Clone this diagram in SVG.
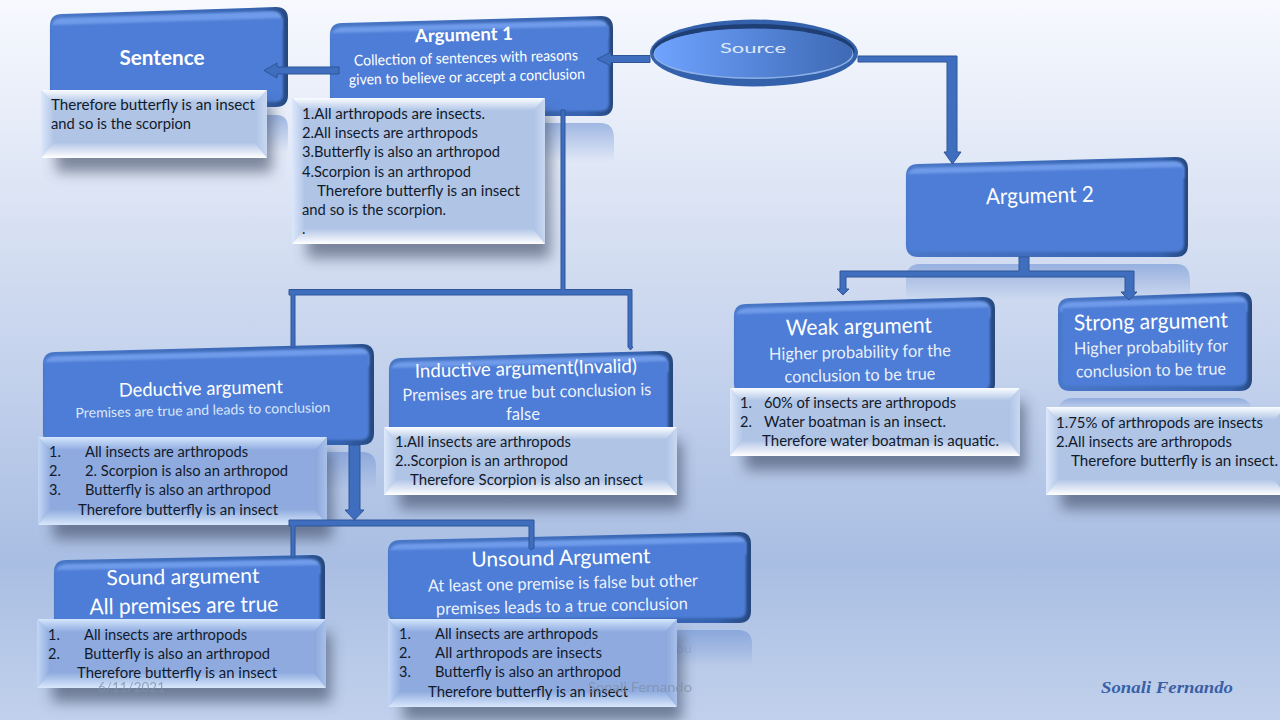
<svg xmlns="http://www.w3.org/2000/svg" width="1280" height="720" viewBox="0 0 1280 720">
<style>
text{font-family:Lato,"Open Sans","Liberation Sans",sans-serif}
.b{fill:#111a2b;font-size:14.5px}
.t{fill:#fff;text-anchor:middle}
.o{fill:url(#edge)}
.m{fill:#4e7dd6;filter:url(#soft)}
.h{fill:#6f9bea;filter:url(#soft)}
.s{fill:#3a4660;opacity:.6;filter:url(#blur)}
.c{fill:#3f6ebf;stroke:#2f5597;stroke-width:1}
.lt{fill:url(#lt)}.ll{fill:url(#ll)}.lr{fill:url(#lr)}.lb{fill:url(#lb)}.lc{fill:#b0c4e5}
.dt{fill:url(#dt)}.dl{fill:url(#dl)}.dr{fill:url(#dr)}.db{fill:url(#db)}.dc{fill:#8faadf}
.r{fill:url(#refl)}
.f{fill:#7f8fa8;font-size:14px;opacity:.75}
</style>
<defs>
<linearGradient id="bg" x1="0" y1="0" x2="0" y2="1"><stop offset="0" stop-color="#f7f9fe"/><stop offset=".4" stop-color="#cfdaf0"/><stop offset=".78" stop-color="#a9bee3"/><stop offset="1" stop-color="#c1d1ec"/></linearGradient>
<linearGradient id="edge" x1="0" y1="0" x2="1" y2="0"><stop offset="0" stop-color="#4a78c8"/><stop offset=".9" stop-color="#3563b0"/><stop offset="1" stop-color="#26487f"/></linearGradient>
<linearGradient id="refl" x1="0" y1="0" x2="0" y2="1"><stop offset="0" stop-color="#6f93d4" stop-opacity=".6"/><stop offset="1" stop-color="#6f93d4" stop-opacity="0"/></linearGradient>
<linearGradient id="lt" x1="0" y1="0" x2="0" y2="1"><stop offset="0" stop-color="#fbfdff"/><stop offset="1" stop-color="#aec4e6"/></linearGradient>
<linearGradient id="ll" x1="0" y1="0" x2="1" y2="0"><stop offset="0" stop-color="#dce8fb"/><stop offset="1" stop-color="#b4c7e7"/></linearGradient>
<linearGradient id="lr" x1="0" y1="0" x2="1" y2="0"><stop offset="0" stop-color="#adc2e5"/><stop offset="1" stop-color="#c9d8f1"/></linearGradient>
<linearGradient id="lb" x1="0" y1="0" x2="0" y2="1"><stop offset="0" stop-color="#b4c7e7"/><stop offset="1" stop-color="#fff"/></linearGradient>
<linearGradient id="dt" x1="0" y1="0" x2="0" y2="1"><stop offset="0" stop-color="#d5e6fd"/><stop offset="1" stop-color="#8fabe0"/></linearGradient>
<linearGradient id="dl" x1="0" y1="0" x2="1" y2="0"><stop offset="0" stop-color="#c3d6f5"/><stop offset="1" stop-color="#92aee0"/></linearGradient>
<linearGradient id="dr" x1="0" y1="0" x2="1" y2="0"><stop offset="0" stop-color="#8aa6da"/><stop offset="1" stop-color="#a8c0ea"/></linearGradient>
<linearGradient id="db" x1="0" y1="0" x2="0" y2="1"><stop offset="0" stop-color="#92aee0"/><stop offset="1" stop-color="#d8e7fb"/></linearGradient>
<linearGradient id="src" x1="0" y1="0" x2="1" y2="0"><stop offset="0" stop-color="#6ea3ff"/><stop offset="1" stop-color="#3e69b4"/></linearGradient>
<filter id="blur" x="-20%" y="-30%" width="140%" height="160%"><feGaussianBlur stdDeviation="7"/></filter>
<filter id="soft" x="-2%" y="-5%" width="104%" height="110%"><feGaussianBlur stdDeviation=".9"/></filter>
</defs>

<rect id="background" width="1280" height="720" fill="url(#bg)"/>

<g id="reflections">
<path class="r" d="M267 115H276Q288 115 288 128V152H267Z"/>
<path class="r" d="M545 123H600Q614 123 614 138V162H545Z"/>
<path class="r" d="M920 264H1176Q1190 264 1190 280V300H906V280Q906 264 920 264Z"/>
<path class="r" d="M1072 398H1238Q1248 398 1252 408H1058Q1062 398 1072 398Z"/>
<path class="r" d="M327 452H362Q376 452 376 466V490H327Z"/>
<path class="r" d="M677 630H738Q752 630 752 644V666H677Z"/>
</g>

<g id="source">
<ellipse cx="754" cy="53" rx="104" ry="33.500" fill="#3361ab"/>
<ellipse cx="753.500" cy="51" rx="101" ry="27" fill="#1f3e74"/>
<ellipse cx="753.500" cy="54" rx="100" ry="25" fill="#8db0e6"/>
<ellipse cx="753.500" cy="53" rx="99" ry="24.500" fill="url(#src)"/>
<text x="753" y="53" text-anchor="middle" fill="#dfe8f8" font-size="14" textLength="66" lengthAdjust="spacingAndGlyphs">Source</text>
</g>

<g id="sentence">
<path class="o" d="M62 14L276 7Q288 7 288 19V95Q288 107 276 107H62Q50 107 50 95V26Q50 14 62 14Z"/>
<path class="h" d="M60 18L272 11Q281 11 282 18V30H52V26Q52 19 60 18Z"/>
<path class="m" d="M51 25L283 18V94Q283 102 275 102H59Q51 102 51 94Z"/>
<text class="t" x="162" y="65" font-size="21" font-weight="700" textLength="85" lengthAdjust="spacingAndGlyphs">Sentence</text>
<rect class="s" x="56" y="104" width="216" height="68"/>
<rect class="lc" x="41" y="90" width="226" height="68"/>
<polygon class="lt" points="41,90 267,90 255,103 53,103"/>
<polygon class="ll" points="41,90 53,103 53,143 41,158"/>
<polygon class="lr" points="267,90 255,103 255,143 267,158"/>
<polygon class="lb" points="41,158 53,143 255,143 267,158"/>
<text class="b" x="51" y="110" textLength="204" lengthAdjust="spacingAndGlyphs">Therefore butterfly is an insect</text>
<text class="b" x="51" y="129" textLength="140" lengthAdjust="spacingAndGlyphs">and so is the scorpion</text>
</g>

<g id="argument1">
<path class="o" d="M342 23L601 16Q613 16 613 28V104Q613 116 601 116H342Q330 116 330 104V35Q330 23 342 23Z"/>
<path class="h" d="M342 27L598 20Q607 20 608 27V38H332V35Q332 28 342 27Z"/>
<path class="m" d="M331 33L609 26V103Q609 111 601 111H339Q331 111 331 103Z"/>
<text class="t" x="464" y="41" font-size="18" font-weight="700" transform="rotate(-1.4 464 41)" textLength="98" lengthAdjust="spacingAndGlyphs">Argument 1</text>
<text class="t" x="466" y="63" font-size="15" transform="rotate(-1.4 466 63)" textLength="224" lengthAdjust="spacingAndGlyphs">Collection of sentences with reasons</text>
<text class="t" x="467" y="82" font-size="15" transform="rotate(-1.4 467 82)" textLength="236" lengthAdjust="spacingAndGlyphs">given to believe or accept a conclusion</text>
<rect class="s" x="307" y="112" width="243" height="146"/>
<rect class="lc" x="292" y="98" width="253" height="146"/>
<polygon class="lt" points="292,98 545,98 533,111 304,111"/>
<polygon class="ll" points="292,98 304,111 304,229 292,244"/>
<polygon class="lr" points="545,98 533,111 533,229 545,244"/>
<polygon class="lb" points="292,244 304,229 533,229 545,244"/>
<text class="b" x="302" y="119" textLength="183" lengthAdjust="spacingAndGlyphs">1.All arthropods are insects.</text>
<text class="b" x="302" y="138" textLength="176" lengthAdjust="spacingAndGlyphs">2.All insects are arthropods</text>
<text class="b" x="302" y="157" textLength="198" lengthAdjust="spacingAndGlyphs">3.Butterfly is also an arthropod</text>
<text class="b" x="302" y="177" textLength="169" lengthAdjust="spacingAndGlyphs">4.Scorpion is an arthropod</text>
<text class="b" x="317" y="196" textLength="203" lengthAdjust="spacingAndGlyphs">Therefore butterfly is an insect</text>
<text class="b" x="302" y="215" textLength="144" lengthAdjust="spacingAndGlyphs">and so is the scorpion.</text>
<text class="b" x="302" y="234">.</text>
</g>

<g id="argument2">
<path class="o" d="M918 164L1176 157Q1188 157 1188 169V245Q1188 257 1176 257H918Q906 257 906 245V176Q906 164 918 164Z"/>
<path class="h" d="M916 168L1174 161Q1183 161 1184 168V178H908V176Q908 169 916 168Z"/>
<path class="m" d="M907 174L1184 167V244Q1184 252 1176 252H915Q907 252 907 244Z"/>
<text class="t" x="1040" y="203" font-size="22" transform="rotate(-1.4 1040 203)" textLength="108" lengthAdjust="spacingAndGlyphs">Argument 2</text>
</g>

<g id="weak-argument">
<path class="o" d="M746 304L983 297Q995 297 995 309V383Q995 395 983 395H746Q734 395 734 383V316Q734 304 746 304Z"/>
<path class="h" d="M746 308L980 301Q989 301 990 308V318H736V316Q736 309 746 308Z"/>
<path class="m" d="M735 314L990 307V382Q990 390 982 390H743Q735 390 735 382Z"/>
<text class="t" x="859" y="334" font-size="22" transform="rotate(-1.2 859 334)" textLength="146" lengthAdjust="spacingAndGlyphs">Weak argument</text>
<text class="t" x="860" y="358" font-size="17" fill-opacity=".9" transform="rotate(-1.2 860 358)" textLength="182" lengthAdjust="spacingAndGlyphs">Higher probability for the</text>
<text class="t" x="860" y="381" font-size="17" fill-opacity=".9" transform="rotate(-1.2 860 381)" textLength="151" lengthAdjust="spacingAndGlyphs">conclusion to be true</text>
<rect class="s" x="745" y="402" width="280" height="68"/>
<rect class="lc" x="730" y="388" width="290" height="68"/>
<polygon class="lt" points="730,388 1020,388 1008,401 742,401"/>
<polygon class="ll" points="730,388 742,401 742,441 730,456"/>
<polygon class="lr" points="1020,388 1008,401 1008,441 1020,456"/>
<polygon class="lb" points="730,456 742,441 1008,441 1020,456"/>
<text class="b" x="740" y="408">1.</text>
<text class="b" x="764" y="408" textLength="192" lengthAdjust="spacingAndGlyphs">60% of insects are arthropods</text>
<text class="b" x="740" y="427">2.</text>
<text class="b" x="764" y="427" textLength="182" lengthAdjust="spacingAndGlyphs">Water boatman is an insect.</text>
<text class="b" x="762" y="446" textLength="237" lengthAdjust="spacingAndGlyphs">Therefore water boatman is aquatic.</text>
</g>

<g id="strong-argument">
<path class="o" d="M1070 298L1240 292Q1252 292 1252 304V379Q1252 391 1240 391H1070Q1058 391 1058 379V310Q1058 298 1070 298Z"/>
<path class="h" d="M1070 302L1237 296Q1246 296 1247 303V312H1060V310Q1060 303 1070 302Z"/>
<path class="m" d="M1062 308L1247 302V378Q1247 386 1239 386H1068Q1062 386 1062 378Z"/>
<text class="t" x="1151" y="329" font-size="22" transform="rotate(-1.2 1151 329)" textLength="154" lengthAdjust="spacingAndGlyphs">Strong argument</text>
<text class="t" x="1151" y="353" font-size="17" fill-opacity=".9" transform="rotate(-1.2 1151 353)" textLength="154" lengthAdjust="spacingAndGlyphs">Higher probability for</text>
<text class="t" x="1151" y="376" font-size="17" fill-opacity=".9" transform="rotate(-1.2 1151 376)" textLength="150" lengthAdjust="spacingAndGlyphs">conclusion to be true</text>
<rect class="s" x="1061" y="421" width="234" height="88"/>
<rect class="lc" x="1046" y="407" width="240" height="88"/>
<polygon class="lt" points="1046,407 1286,407 1274,420 1058,420"/>
<polygon class="ll" points="1046,407 1058,420 1058,480 1046,495"/>
<polygon class="lb" points="1046,495 1058,480 1274,480 1286,495"/>
<text class="b" x="1056" y="428" textLength="207" lengthAdjust="spacingAndGlyphs">1.75% of arthropods are insects</text>
<text class="b" x="1056" y="447" textLength="176" lengthAdjust="spacingAndGlyphs">2.All insects are arthropods</text>
<text class="b" x="1071" y="466" textLength="207" lengthAdjust="spacingAndGlyphs">Therefore butterfly is an insect.</text>
</g>

<g id="deductive-argument">
<path class="o" d="M55 352L362 344Q374 344 374 356V433Q374 445 362 445H55Q43 445 43 433V364Q43 352 55 352Z"/>
<path class="h" d="M55 356L360 348Q368 348 369 355V366H45V364Q45 357 55 356Z"/>
<path class="m" d="M44 362L369 354V432Q369 440 361 440H52Q44 440 44 432Z"/>
<text class="t" x="201" y="395" font-size="19" transform="rotate(-1.3 201 395)" textLength="164" lengthAdjust="spacingAndGlyphs">Deductive argument</text>
<text class="t" x="203" y="415" font-size="14" style="fill:#dbe6fb" transform="rotate(-1.3 203 415)" textLength="255" lengthAdjust="spacingAndGlyphs">Premises are true and leads to conclusion</text>
<rect class="s" x="53" y="451" width="279" height="88"/>
<rect class="dc" x="38" y="437" width="289" height="88"/>
<polygon class="dt" points="38,437 327,437 315,450 50,450"/>
<polygon class="dl" points="38,437 50,450 50,510 38,525"/>
<polygon class="dr" points="327,437 315,450 315,510 327,525"/>
<polygon class="db" points="38,525 50,510 315,510 327,525"/>
<text class="b" x="49" y="457">1.</text>
<text class="b" x="85" y="457" textLength="163" lengthAdjust="spacingAndGlyphs">All insects are arthropods</text>
<text class="b" x="49" y="476">2.</text>
<text class="b" x="85" y="476" textLength="203" lengthAdjust="spacingAndGlyphs">2. Scorpion is also an arthropod</text>
<text class="b" x="49" y="495">3.</text>
<text class="b" x="85" y="495" textLength="186" lengthAdjust="spacingAndGlyphs">Butterfly is also an arthropod</text>
<text class="b" x="78" y="515" textLength="200" lengthAdjust="spacingAndGlyphs">Therefore butterfly is an insect</text>
</g>

<g id="inductive-argument">
<path class="o" d="M401 358L661 351Q673 351 673 363V436H389V370Q389 358 401 358Z"/>
<path class="h" d="M401 362L658 355Q667 355 668 362V372H391V370Q391 363 401 362Z"/>
<path class="m" d="M390 368L668 361V436H390Z"/>
<text class="t" x="526" y="375" font-size="19" transform="rotate(-1.4 526 375)" textLength="222" lengthAdjust="spacingAndGlyphs">Inductive argument(Invalid)</text>
<text class="t" x="527" y="398" font-size="17" fill-opacity=".92" transform="rotate(-1.4 527 398)" textLength="249" lengthAdjust="spacingAndGlyphs">Premises are true but conclusion is</text>
<text class="t" x="523" y="420" font-size="17" fill-opacity=".92" textLength="34" lengthAdjust="spacingAndGlyphs">false</text>
<rect class="s" x="399" y="441" width="283" height="68"/>
<rect class="lc" x="384" y="427" width="293" height="68"/>
<polygon class="lt" points="384,427 677,427 665,440 396,440"/>
<polygon class="ll" points="384,427 396,440 396,480 384,495"/>
<polygon class="lr" points="677,427 665,440 665,480 677,495"/>
<polygon class="lb" points="384,495 396,480 665,480 677,495"/>
<text class="b" x="395" y="447" textLength="176" lengthAdjust="spacingAndGlyphs">1.All insects are arthropods</text>
<text class="b" x="395" y="466" textLength="173" lengthAdjust="spacingAndGlyphs">2..Scorpion is an arthropod</text>
<text class="b" x="410" y="485" textLength="233" lengthAdjust="spacingAndGlyphs">Therefore Scorpion is also an insect</text>
</g>

<g id="sound-argument">
<path class="o" d="M66 560L313 555Q325 555 325 567V625H54V572Q54 560 66 560Z"/>
<path class="h" d="M66 564L310 559Q319 559 320 566V574H56V572Q56 565 66 564Z"/>
<path class="m" d="M55 570L320 565V625H55Z"/>
<text class="t" x="183" y="584" font-size="21" transform="rotate(-.9 183 584)" textLength="153" lengthAdjust="spacingAndGlyphs">Sound argument</text>
<text class="t" x="184" y="613" font-size="22" transform="rotate(-.9 184 613)" textLength="189" lengthAdjust="spacingAndGlyphs">All premises are true</text>
<rect class="s" x="52" y="633" width="279" height="69"/>
<rect class="dc" x="37" y="619" width="289" height="69"/>
<polygon class="dt" points="37,619 326,619 314,632 49,632"/>
<polygon class="dl" points="37,619 49,632 49,673 37,688"/>
<polygon class="dr" points="326,619 314,632 314,673 326,688"/>
<polygon class="db" points="37,688 49,673 314,673 326,688"/>
<text class="b" x="48" y="640">1.</text>
<text class="b" x="84" y="640" textLength="163" lengthAdjust="spacingAndGlyphs">All insects are arthropods</text>
<text class="b" x="48" y="659">2.</text>
<text class="b" x="84" y="659" textLength="186" lengthAdjust="spacingAndGlyphs">Butterfly is also an arthropod</text>
<text class="b" x="77" y="678" textLength="200" lengthAdjust="spacingAndGlyphs">Therefore butterfly is an insect</text>
</g>

<g id="unsound-argument">
<path class="o" d="M400 540L739 532Q751 532 751 544V611Q751 623 739 623H400Q388 623 388 611V552Q388 540 400 540Z"/>
<path class="h" d="M400 544L736 536Q745 536 746 543V554H390V552Q390 545 400 544Z"/>
<path class="m" d="M389 550L746 542V610Q746 618 738 618H397Q389 618 389 610Z"/>
<text class="t" x="561" y="565" font-size="21" transform="rotate(-1.2 561 565)" textLength="179" lengthAdjust="spacingAndGlyphs">Unsound Argument</text>
<text class="t" x="563" y="589" font-size="17" fill-opacity=".92" transform="rotate(-1.2 563 589)" textLength="270" lengthAdjust="spacingAndGlyphs">At least one premise is false but other</text>
<text class="t" x="562" y="612" font-size="17" fill-opacity=".92" transform="rotate(-1.2 562 612)" textLength="252" lengthAdjust="spacingAndGlyphs">premises leads to a true conclusion</text>
<text x="676" y="653" font-size="14" fill="#8ea8d4" opacity=".7">ou</text>
<rect class="s" x="403" y="633" width="279" height="88"/>
<rect class="dc" x="388" y="619" width="289" height="88"/>
<polygon class="dt" points="388,619 677,619 665,632 400,632"/>
<polygon class="dl" points="388,619 400,632 400,692 388,707"/>
<polygon class="dr" points="677,619 665,632 665,692 677,707"/>
<polygon class="db" points="388,707 400,692 665,692 677,707"/>
<text class="b" x="399" y="639">1.</text>
<text class="b" x="435" y="639" textLength="163" lengthAdjust="spacingAndGlyphs">All insects are arthropods</text>
<text class="b" x="399" y="658">2.</text>
<text class="b" x="435" y="658" textLength="167" lengthAdjust="spacingAndGlyphs">All arthropods are insects</text>
<text class="b" x="399" y="677">3.</text>
<text class="b" x="435" y="677" textLength="186" lengthAdjust="spacingAndGlyphs">Butterfly is also an arthropod</text>
<text class="b" x="428" y="697" textLength="200" lengthAdjust="spacingAndGlyphs">Therefore butterfly is an insect</text>
</g>

<g id="connectors">
<path class="c" d="M650 55.500V62.500H611V66L597 59L611 52V55.500Z"/>
<path class="c" d="M339 67V74H277V78L264 70.500L277 63V67Z"/>
<path class="c" d="M858 56H957V152H961L952.500 164L944 152H947V62H858Z"/>
<path class="c" d="M561 110H565V289.500H632V347H633L630.500 350L628 347V295H295V346L293 348L291 346V295H289V289.500H561Z"/>
<path class="c" d="M1019 257H1029V271H1134V292H1137L1129 300L1121 292H1125V277H846V289H849L843 295L837 289H840V271H1019Z"/>
<path class="c" d="M349 445H360V510H364L354.500 520L345 510H349Z"/>
<path class="c" d="M289 520H534V548L531 550L529 548V526H295V556L293 558L291 556V526H289Z"/>
</g>

<g id="footer">
<text class="f" x="98" y="692" textLength="67" lengthAdjust="spacingAndGlyphs">6/11/2021</text>
<text class="f" x="588" y="692" textLength="104" lengthAdjust="spacingAndGlyphs">Sonali Fernando</text>
<text x="1101" y="693" font-size="17" font-style="italic" font-weight="700" fill="#3a5fa6" style="font-family:'Liberation Serif',serif" textLength="132" lengthAdjust="spacingAndGlyphs">Sonali Fernando</text>
</g>
</svg>
